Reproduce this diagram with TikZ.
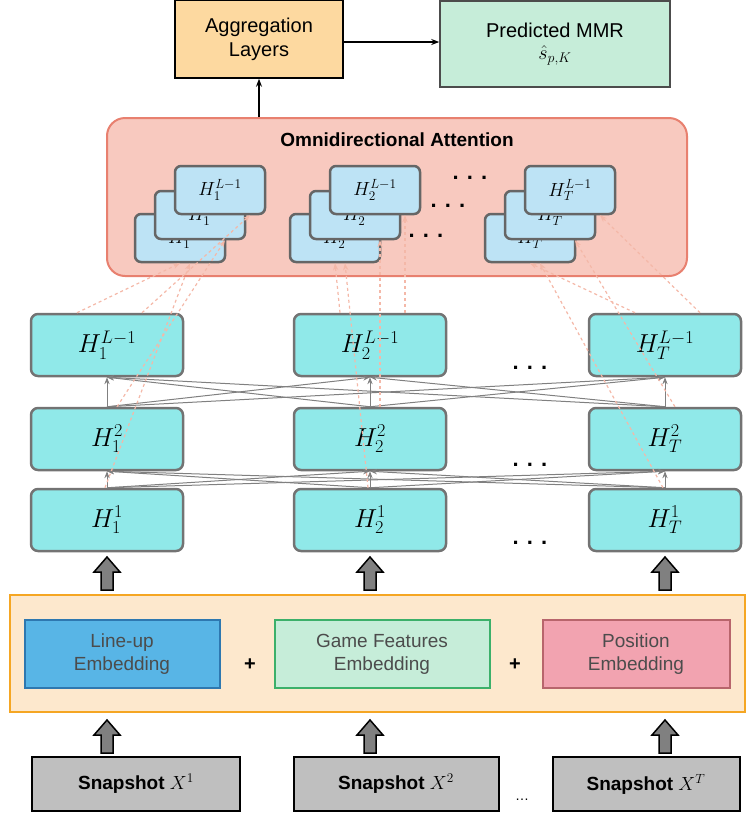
\documentclass[tikz,border=0pt]{standalone}
\usepackage{fix-cm}
\usepackage{fontspec}
\setmainfont{Liberation Sans}
\usetikzlibrary{arrows.meta}
\definecolor{hcol}{HTML}{90E9E9}
\definecolor{stk}{HTML}{BDE3F5}
\definecolor{att}{HTML}{F8C9BF}
\definecolor{attb}{HTML}{E8806F}
\definecolor{agg}{HTML}{FDD9A0}
\definecolor{pred}{HTML}{C6EDD9}
\definecolor{embbg}{HTML}{FDE8CD}
\definecolor{embb}{HTML}{F5A623}
\definecolor{pink}{HTML}{F4B8A8}
\definecolor{lub}{HTML}{58B5E6}
\definecolor{lubd}{HTML}{2E78B0}
\definecolor{posf}{HTML}{F2A3B0}
\definecolor{posb}{HTML}{B8656C}
\definecolor{gfb}{HTML}{3CB06A}
\begin{document}
\begin{tikzpicture}[x=1pt,y=-1pt,
  hbox/.style={draw=gray!90!black,line width=2.5pt,fill=hcol,rounded corners=7pt,minimum width=152pt,minimum height=62pt,font=\fontsize{26}{28}\selectfont},
  sbox/.style={draw=gray!80!black,line width=2.5pt,fill=stk,rounded corners=6pt,minimum width=90pt,minimum height=48pt,font=\fontsize{19}{21}\selectfont},
  ebox/.style={line width=2pt,minimum width=195pt,minimum height=68pt,align=center,text=gray!60!black,font=\fontsize{19}{23}\selectfont},
  snap/.style={draw=black,line width=2pt,fill=gray!50,minimum height=54pt,font=\fontsize{19}{21}\selectfont},
  garr/.style={gray,line width=1pt,-{Stealth[length=7pt]}},
  parr/.style={pink,dashed,line width=1.2pt,-{Stealth[length=7pt]}},
  dots/.style={font=\fontsize{22}{22}\selectfont\bfseries},
  fat/.pic={\draw[black,line width=1.5pt,fill=gray] (-6,0)--(6,0)--(6,-18)--(13,-18)--(0,-33)--(-13,-18)--(-6,-18)--cycle;}]
\path[use as bounding box] (0,0) rectangle (756,815);
% top
\node[draw=black,line width=1.5pt,fill=agg,minimum width=168pt,minimum height=78pt,align=center,font=\fontsize{20}{24}\selectfont] (agg) at (259,39) {Aggregation\\Layers};
\node[draw=black!70,line width=1.5pt,fill=pred,minimum width=230pt,minimum height=86pt,align=center,font=\fontsize{20}{24}\selectfont] (pred) at (555,44) {Predicted MMR\\[-2pt]$\hat{s}_{p,K}$};
\draw[line width=2pt,-{Stealth[length=8pt]}] (agg.east |- 0,42) -- (pred.west |- 0,42);
% attention
\node[draw=attb,line width=2pt,fill=att,rounded corners=18pt,minimum width=580pt,minimum height=158pt] (att) at (397,197) {};
\node[font=\fontsize{19}{21}\selectfont\bfseries] (attt) at (397,140) {Omnidirectional Attention};
\draw[line width=2pt,-{Stealth[length=8pt]}] (att.north -| agg.south) -- (agg.south);
\foreach \c/\x/\l in {1/220/1,2/375/2,3/570/T}{
  \node[sbox] (s\c a) at (\x-40,238) {$H_{\l}^{1}$};
  \node[sbox] (s\c b) at (\x-20,215) {$H_{\l}^{2}$};
  \node[sbox] (s\c c) at (\x,190) {$H_{\l}^{L-1}$};
}
\node[dots] (d1) at (470,178) {. . .};
\node[dots] (d2) at (448,206) {. . .};
\node[dots] (d3) at (426,236) {. . .};
% H grid
\foreach \c/\x/\l in {1/107/1,2/370/2,3/665/T}{
  \node[hbox] (h\c a) at (\x,520) {$H_{\l}^{1}$};
  \node[hbox] (h\c b) at (\x,439) {$H_{\l}^{2}$};
  \node[hbox] (h\c c) at (\x,345) {$H_{\l}^{L-1}$};
}
\node[dots] (e1) at (530,368) {. . .};
\node[dots] (e2) at (530,465) {. . .};
\node[dots] (e3) at (530,543) {. . .};
\foreach \i in {1,2,3}{\foreach \j in {1,2,3}{
  \draw[garr] (h\i a.north) -- (h\j b.south);
  \draw[garr] (h\i b.north) -- (h\j c.south);
}}
% dashed attention arrows
\foreach \c in {1,2,3}{
  \draw[parr] ([xshift=-2pt]h\c a.north) -- ([xshift=10pt]s\c a.south);
  \draw[parr] ([xshift=-30pt]h\c c.north) -- ([xshift=0pt]s\c a.south);
  \draw[parr] ([xshift=10pt]h\c b.north) -- ([xshift=25pt]s\c b.south);
  \draw[parr] ([xshift=35pt]h\c c.north) -- ([xshift=30pt]s\c c.south);
}
% embedding
\node[draw=embb,line width=2pt,fill=embbg,minimum width=735pt,minimum height=117pt] (emb) at (377,653) {};
\node[ebox,draw=lubd,fill=lub] (le) at (122,654) {Line-up\\Embedding};
\node[ebox,draw=gfb,fill=pred,minimum width=215pt] (ge) at (382,654) {Game Features\\Embedding};
\node[ebox,draw=posb,fill=posf,minimum width=187pt] (pe) at (636,654) {Position\\Embedding};
\node[font=\fontsize{20}{20}\selectfont\bfseries] (p1) at (250,665) {+};
\node[font=\fontsize{20}{20}\selectfont\bfseries] (p2) at (515,665) {+};
% snapshots
\node[snap,minimum width=208pt] (x1) at (136,784) {\textbf{Snapshot} $X^{1}$};
\node[snap,minimum width=205pt] (x2) at (396,784) {\textbf{Snapshot} $X^{2}$};
\node[snap,minimum width=187pt] (x3) at (646,784) {\textbf{Snapshot} $X^{T}$};
\node[font=\fontsize{14}{14}\selectfont] (e4) at (522,800) {…};
\foreach \x in {107,370,665}{
  \pic at (\x,590) {fat};
  \pic at (\x,753) {fat};
}
\end{tikzpicture}
\end{document}
